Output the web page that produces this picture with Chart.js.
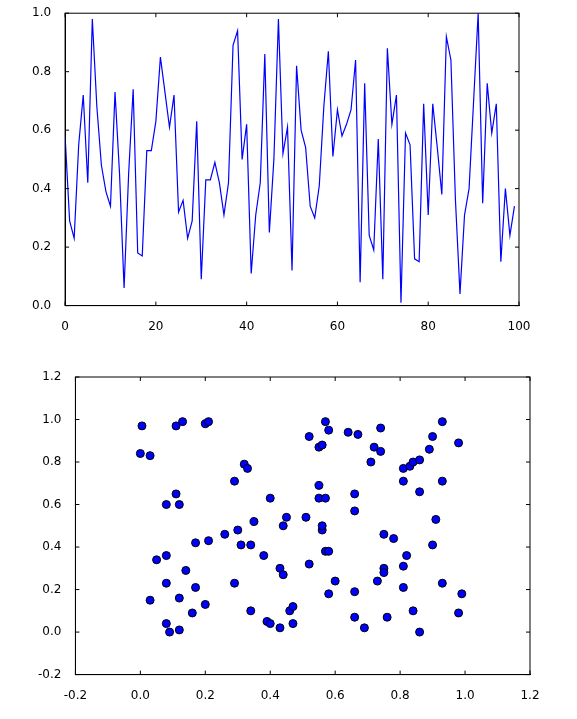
<!DOCTYPE html>
<html>
<head>
<meta charset="utf-8">
<script src="https://cdn.jsdelivr.net/npm/chart.js@4.4.0/dist/chart.umd.min.js"></script>
<style>
  body { margin: 0; background: #fff; }
  .box { width: 577px; }
</style>
</head>
<body>
<div class="box" style="height:340px"><canvas id="lineChart"></canvas></div>
<div class="box" style="height:359px;margin-top:20px"><canvas id="scatterChart"></canvas></div>
<script>
// line series, index 0..99
const lineValues = [
  0.58, 0.29, 0.23, 0.55, 0.72, 0.42, 0.98, 0.68, 0.48, 0.39,
  0.34, 0.73, 0.45, 0.06, 0.45, 0.74, 0.18, 0.17, 0.53, 0.53,
  0.63, 0.85, 0.73, 0.61, 0.72, 0.32, 0.36, 0.23, 0.29, 0.63,
  0.09, 0.43, 0.43, 0.49, 0.42, 0.31, 0.42, 0.89, 0.94, 0.50,
  0.62, 0.11, 0.31, 0.42, 0.86, 0.25, 0.50, 0.98, 0.52, 0.61,
  0.12, 0.82, 0.60, 0.54, 0.34, 0.30, 0.41, 0.68, 0.87, 0.51,
  0.67, 0.58, 0.62, 0.67, 0.84, 0.08, 0.76, 0.24, 0.19, 0.57,
  0.09, 0.88, 0.62, 0.72, 0.01, 0.59, 0.55, 0.16, 0.15, 0.69,
  0.31, 0.69, 0.54, 0.38, 0.92, 0.84, 0.36, 0.04, 0.31, 0.40,
  0.70, 1.00, 0.35, 0.76, 0.59, 0.69, 0.15, 0.40, 0.24, 0.34
];

// scatter points
const scatterX = [
  0.005, 0.0, 0.03, 0.05, 0.03, 0.08, 0.08, 0.11, 0.12, 0.11,
  0.13, 0.08, 0.12, 0.14, 0.08, 0.09, 0.12, 0.16, 0.17, 0.17,
  0.21, 0.20, 0.20, 0.21, 0.26, 0.29, 0.30, 0.31, 0.32, 0.33,
  0.29, 0.34, 0.35, 0.34, 0.38, 0.39, 0.40, 0.40, 0.43, 0.43,
  0.44, 0.44, 0.45, 0.46, 0.47, 0.47, 0.51, 0.52, 0.52, 0.55,
  0.55, 0.56, 0.55, 0.57, 0.56, 0.56, 0.57, 0.58, 0.58, 0.57,
  0.58, 0.60, 0.64, 0.67, 0.66, 0.66, 0.66, 0.66, 0.69, 0.71,
  0.72, 0.73, 0.74, 0.74, 0.75, 0.75, 0.75, 0.76, 0.78, 0.81,
  0.81, 0.83, 0.84, 0.81, 0.81, 0.82, 0.84, 0.86, 0.86, 0.86,
  0.89, 0.90, 0.91, 0.90, 0.93, 0.93, 0.93, 0.98, 0.99, 0.98
];
const scatterY = [
  0.97, 0.84, 0.83, 0.34, 0.15, 0.36, 0.60, 0.65, 0.60, 0.97,
  0.99, 0.23, 0.16, 0.29, 0.04, 0.00, 0.01, 0.09, 0.21, 0.42,
  0.43, 0.13, 0.98, 0.99, 0.46, 0.71, 0.48, 0.41, 0.79, 0.77,
  0.23, 0.41, 0.52, 0.10, 0.36, 0.05, 0.04, 0.63, 0.02, 0.30,
  0.50, 0.27, 0.54, 0.10, 0.04, 0.12, 0.54, 0.32, 0.92, 0.69,
  0.87, 0.88, 0.63, 0.63, 0.48, 0.50, 0.38, 0.38, 0.95, 0.99,
  0.18, 0.24, 0.94, 0.93, 0.57, 0.65, 0.19, 0.07, 0.02, 0.80,
  0.87, 0.24, 0.85, 0.96, 0.46, 0.30, 0.28, 0.07, 0.44, 0.71,
  0.77, 0.78, 0.80, 0.31, 0.21, 0.36, 0.10, 0.00, 0.81, 0.66,
  0.86, 0.92, 0.53, 0.41, 0.99, 0.71, 0.23, 0.89, 0.18, 0.09
];

Chart.defaults.font.family = 'DejaVu Sans';
Chart.defaults.font.size = 12;
Chart.defaults.color = '#000';
Chart.defaults.animation = false;

const fmt1 = v => { const r = Math.round(v * 10) / 10; return (r === 0 ? 0 : r).toFixed(1); };

// box around plot area + inward ticks, matplotlib style
Chart.register({
  id: 'boxTicks',
  afterDraw(chart) {
    const c = chart.ctx, a = chart.chartArea;
    c.save();
    c.strokeStyle = '#000';
    c.lineWidth = 1;
    c.strokeRect(a.left, a.top, a.right - a.left, a.bottom - a.top);
    const sx = chart.scales.x, sy = chart.scales.y;
    c.beginPath();
    sx.ticks.forEach(t => {
      const px = sx.getPixelForValue(t.value);
      c.moveTo(px, a.bottom); c.lineTo(px, a.bottom - 4);
      c.moveTo(px, a.top); c.lineTo(px, a.top + 4);
    });
    sy.ticks.forEach(t => {
      const py = sy.getPixelForValue(t.value);
      c.moveTo(a.left, py); c.lineTo(a.left + 4, py);
      c.moveTo(a.right, py); c.lineTo(a.right - 4, py);
    });
    c.stroke();
    c.restore();
  }
});

function axis(min, max, step, fmt) {
  return {
    type: 'linear', min, max,
    grid: { display: false },
    border: { display: true, color: '#000', width: 1 },
    ticks: { stepSize: step, padding: 6, callback: fmt, maxRotation: 0 }
  };
}

new Chart(document.getElementById('lineChart'), {
  type: 'line',
  data: {
    datasets: [{
      data: lineValues.map((v, i) => ({ x: i, y: v })),
      borderColor: '#0000ff',
      borderWidth: 1.2,
      pointRadius: 0,
      tension: 0
    }]
  },
  options: {
    responsive: true,
    maintainAspectRatio: false,
    layout: { padding: { top: 8, right: 58, left: 26, bottom: 0 } },
    plugins: { legend: { display: false }, tooltip: { enabled: false } },
    scales: {
      x: axis(0, 100, 20, v => v),
      y: axis(0, 1, 0.2, fmt1)
    }
  }
});

new Chart(document.getElementById('scatterChart'), {
  type: 'scatter',
  data: {
    datasets: [{
      data: scatterX.map((x, i) => ({ x, y: scatterY[i] })),
      backgroundColor: '#0000ff',
      borderColor: '#000',
      borderWidth: 1,
      pointRadius: 4
    }]
  },
  options: {
    responsive: true,
    maintainAspectRatio: false,
    layout: { padding: { top: 17, right: 47, left: 32, bottom: 10 } },
    plugins: { legend: { display: false }, tooltip: { enabled: false } },
    scales: {
      x: axis(-0.2, 1.2, 0.2, fmt1),
      y: axis(-0.2, 1.2, 0.2, fmt1)
    }
  }
});
</script>
</body>
</html>
